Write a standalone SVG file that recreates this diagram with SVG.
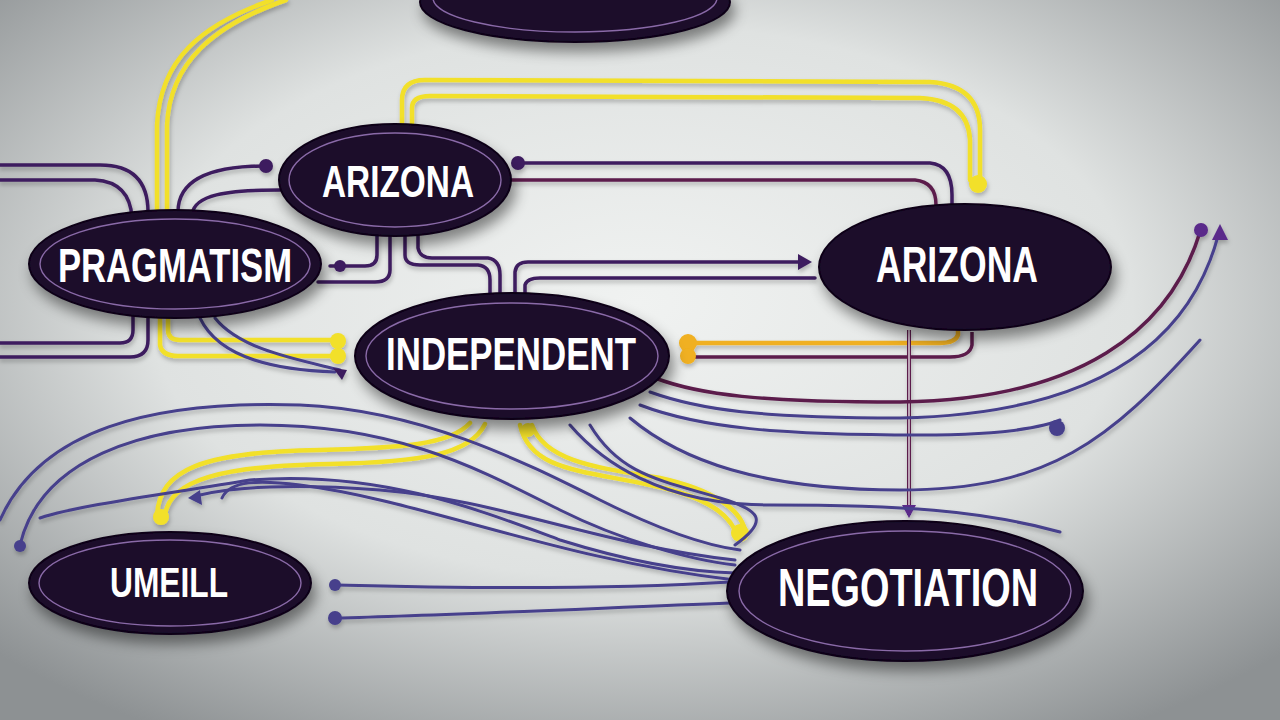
<svg xmlns="http://www.w3.org/2000/svg" width="1280" height="720" viewBox="0 0 1280 720">
<defs>
<radialGradient id="bg" cx="50%" cy="42%" r="70%">
<stop offset="0" stop-color="#f0f2f1"/>
<stop offset="0.55" stop-color="#dfe2e1"/>
<stop offset="1" stop-color="#8d9193"/>
</radialGradient>
<filter id="sh" x="-20%" y="-20%" width="140%" height="160%">
<feDropShadow dx="4" dy="9" stdDeviation="7" flood-color="#000" flood-opacity="0.45"/>
</filter>
<filter id="lsh" x="-5%" y="-5%" width="110%" height="120%">
<feDropShadow dx="1" dy="3" stdDeviation="2" flood-color="#000" flood-opacity="0.25"/>
</filter>
</defs>
<style>
.node ellipse.body{fill:#1b0a2c;stroke:#0e0418;stroke-width:2;filter:url(#sh)}
.node ellipse.ring{fill:none;stroke:#8a6aa8;stroke-width:1.4}
.node text{font-family:"Liberation Sans",Arial,sans-serif;font-weight:bold;fill:#ffffff;text-anchor:middle}
.y{fill:none;stroke:#f2e02a;stroke-width:4.5;stroke-linecap:round}
.o{fill:none;stroke:#f0b020;stroke-width:4.5}
.p{fill:none;stroke:#3d1d5e;stroke-width:3.5;stroke-linecap:round}
.m{fill:none;stroke:#5b1c4c;stroke-width:3.5}
.bl{fill:none;stroke:#46408c;stroke-width:3;stroke-linecap:round}
.dotp{fill:#3d1d5e}
.dotb{fill:#46408c}
.doty{fill:#f2e02a}
</style>
<rect width="1280" height="720" fill="url(#bg)"/>

<g id="connectors" filter="url(#lsh)">
<!-- yellow top-left to PRAGMATISM -->
<path class="y" d="M272 0 C200 25 160 60 157 125 L157 212"/>
<path class="y" d="M286 0 C214 25 170 62 167 125 L167 212"/>
<!-- yellow ARIZONA1 to ARIZONA2 -->
<path class="y" d="M402 125 L402 100 Q402 80 425 80 L930 82 Q980 85 980 130 L980 180"/>
<path class="y" d="M412 125 L412 108 Q412 96 430 96 L920 98 Q968 100 970 140 L970 180"/>
<circle class="doty" cx="978" cy="184" r="9"/>
<!-- yellow PRAGMATISM to INDEPENDENT -->
<path class="y" d="M168 318 L168 330 Q168 340 180 340 L335 340"/>
<path class="y" d="M160 318 L160 345 Q162 356 178 356 L335 356"/>
<circle class="doty" cx="338" cy="341" r="8"/>
<circle class="doty" cx="338" cy="356" r="8"/>
<!-- yellow INDEPENDENT to UMEILL -->
<path class="y" d="M470 423 C450 445 400 448 320 450 C200 452 160 470 157 515"/>
<path class="y" d="M485 424 C470 455 420 462 330 464 C220 466 170 480 165 515"/>
<circle class="doty" cx="161" cy="517" r="8"/>
<!-- yellow INDEPENDENT to NEGOTIATION -->
<path class="y" d="M520 425 C530 470 580 470 650 485 C700 495 725 510 735 530"/>
<path class="y" d="M532 425 C545 462 600 468 660 478 C715 490 740 510 745 530"/>
<circle class="doty" cx="528" cy="430" r="7"/>
<circle class="doty" cx="740" cy="533" r="9"/>
<!-- orange/maroon ARIZONA2 to INDEPENDENT -->
<path class="o" d="M958 328 L958 335 Q955 343 940 343 L690 343"/>
<path class="m" d="M972 332 L972 345 Q970 357 950 357 L690 357"/>
<circle cx="688" cy="343" r="9" fill="#f0b020"/>
<circle cx="688" cy="356" r="8" fill="#f0b020"/>

<!-- purple: left edge into PRAGMATISM top -->
<path class="p" d="M0 165 L100 165 Q148 165 148 212"/>
<path class="p" d="M0 180 L95 180 Q130 182 132 218"/>
<!-- PRAGMATISM top to ARIZONA1 left -->
<path class="p" d="M178 212 C178 180 210 166 265 166"/>
<circle class="dotp" cx="266" cy="166" r="7"/>
<path class="p" d="M192 214 C195 195 225 190 280 190"/>
<!-- ARIZONA1 right to ARIZONA2 -->
<path class="p" d="M520 163 L930 163 Q952 165 952 195 L952 210"/>
<circle class="dotp" cx="518" cy="163" r="7"/>
<path class="m" d="M510 180 L915 180 Q936 182 936 205"/>
<!-- ARIZONA1 bottom to PRAGMATISM right -->
<path class="p" d="M377 235 L377 255 Q377 266 365 266 L330 266"/>
<circle class="dotp" cx="340" cy="266" r="6"/>
<path class="p" d="M390 235 L390 270 Q390 282 375 282 L318 282"/>
<!-- ARIZONA1 bottom to INDEPENDENT top -->
<path class="p" d="M405 235 L405 255 Q405 265 420 265 L478 265 Q490 266 490 280 L490 295"/>
<path class="p" d="M418 235 L418 248 Q420 258 432 258 L488 258 Q500 260 500 275 L500 295"/>
<!-- INDEPENDENT top to ARIZONA2 -->
<path class="p" d="M515 295 L515 272 Q516 262 528 262 L800 262"/>
<path class="dotp" d="M798 254 L812 262 L798 270 z"/>
<path class="p" d="M525 295 L525 285 Q527 278 540 278 L815 278"/>
<!-- left edge to PRAGMATISM bottom -->
<path class="p" d="M0 343 L120 343 Q133 343 133 330 L133 312"/>
<path class="p" d="M0 357 L130 357 Q148 357 148 340 L148 317"/>
<!-- PRAGMATISM bottom thin lines to INDEPENDENT -->
<path class="bl" d="M200 318 C220 360 280 370 335 372"/>
<path class="bl" d="M215 318 C240 350 300 360 340 370"/>
<path class="dotp" d="M333 368 L347 370 L342 380 z"/>
<!-- ARIZONA2 to NEGOTIATION vertical -->
<path d="M909 330 L909 515" fill="none" stroke="#5b1c4c" stroke-width="4"/>
<path d="M909 330 L909 515" fill="none" stroke="#ffffff" stroke-width="1.2"/>
<path d="M902 505 L909 518 L916 505 z" fill="#5a2a8a"/>
<!-- INDEPENDENT right sweeping to top-right -->
<path class="m" d="M655 378 C700 395 760 402 900 402 C1080 400 1170 330 1200 232"/>
<circle cx="1201" cy="230" r="7" fill="#5a2a8a"/>
<path class="bl" d="M650 392 C700 410 760 418 900 418 C1100 414 1190 340 1218 236"/>
<path d="M1212 240 L1220 224 L1228 240 z" fill="#5a2a8a"/>
<path class="bl" d="M640 405 C700 428 780 435 920 435 C1000 435 1040 428 1060 420"/>
<circle class="dotb" cx="1057" cy="428" r="8"/>
<path class="bl" d="M630 418 C680 460 760 490 900 490 C1050 490 1110 440 1200 340"/>
<!-- bottom sweeping curves to NEGOTIATION -->
<path class="bl" d="M570 425 C600 460 660 505 770 505 C900 505 980 510 1060 532"/>
<path class="bl" d="M0 520 C40 430 150 400 300 405 C420 410 520 460 600 500 C650 525 700 545 740 550"/>
<path class="bl" d="M20 545 C40 460 140 425 260 425 C400 425 480 470 560 510 C620 540 690 560 735 565"/>
<circle class="dotb" cx="20" cy="546" r="6"/>
<path class="bl" d="M40 518 C80 505 160 495 250 480 C380 470 480 510 560 540 C640 565 700 572 735 573"/>
<path class="bl" d="M200 495 C240 486 300 484 380 490 C500 500 600 545 735 560"/>
<path class="dotb" d="M188 498 L200 490 L202 505 z"/>
<path class="bl" d="M222 498 C230 480 260 480 300 485 C420 500 560 560 735 580"/>
<path class="bl" d="M590 425 C620 475 660 480 720 498 C760 510 770 520 735 545"/>
<!-- UMEILL right to NEGOTIATION -->
<path class="bl" d="M335 585 C450 588 600 590 730 582"/>
<circle class="dotb" cx="335" cy="585" r="6"/>
<path class="bl" d="M335 618 C450 615 600 608 730 603"/>
<circle class="dotb" cx="335" cy="618" r="7"/>
</g>

<g id="node-top" class="node">
<ellipse class="body" cx="575" cy="2" rx="155" ry="40"/>
<ellipse class="ring" cx="575" cy="-2" rx="142" ry="34"/>
</g>
<g id="node-arizona1" class="node">
<ellipse class="body" cx="395" cy="180" rx="116" ry="56"/>
<ellipse class="ring" cx="395" cy="180" rx="106" ry="47"/>
<text x="398" y="197" font-size="44" textLength="152" lengthAdjust="spacingAndGlyphs">ARIZONA</text>
</g>
<g id="node-pragmatism" class="node">
<ellipse class="body" cx="175" cy="264" rx="146" ry="54"/>
<ellipse class="ring" cx="175" cy="264" rx="135" ry="45"/>
<text x="175" y="282" font-size="48" textLength="234" lengthAdjust="spacingAndGlyphs">PRAGMATISM</text>
</g>
<g id="node-arizona2" class="node">
<ellipse class="body" cx="965" cy="267" rx="146" ry="63"/>
<text x="957" y="282" font-size="50" textLength="162" lengthAdjust="spacingAndGlyphs">ARIZONA</text>
</g>
<g id="node-independent" class="node">
<ellipse class="body" cx="512" cy="356" rx="157" ry="63"/>
<ellipse class="ring" cx="512" cy="356" rx="146" ry="53"/>
<text x="511" y="370" font-size="46" textLength="250" lengthAdjust="spacingAndGlyphs">INDEPENDENT</text>
</g>
<g id="node-umeill" class="node">
<ellipse class="body" cx="170" cy="583" rx="141" ry="51"/>
<ellipse class="ring" cx="170" cy="583" rx="131" ry="43"/>
<text x="169" y="597" font-size="42" textLength="118" lengthAdjust="spacingAndGlyphs">UMEILL</text>
</g>
<g id="node-negotiation" class="node">
<ellipse class="body" cx="905" cy="591" rx="178" ry="70"/>
<ellipse class="ring" cx="905" cy="591" rx="166" ry="60"/>
<text x="908" y="606" font-size="54" textLength="260" lengthAdjust="spacingAndGlyphs">NEGOTIATION</text>
</g>
</svg>
